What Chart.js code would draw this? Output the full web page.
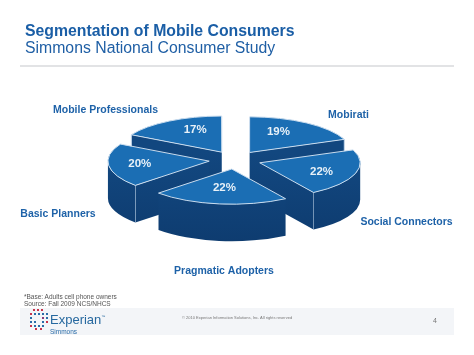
<!DOCTYPE html>
<html><head><meta charset="utf-8">
<script src="https://cdn.jsdelivr.net/npm/chart.js@4"></script>
<style>
html,body{margin:0;padding:0;background:#fff;width:474px;height:355px;overflow:hidden}
body{position:relative;font-family:"Liberation Sans",Arial,sans-serif}
canvas{position:absolute;left:0;top:0}
.t{position:absolute;white-space:nowrap;line-height:1}
#band{position:absolute;left:20px;top:308px;width:434px;height:27px;background:#f3f5f8}
#rule{position:absolute;left:20px;top:65px;width:434px;height:1.5px;background:#e2e3e5}
</style></head><body>
<div id="band"></div><div id="rule"></div>
<canvas id="c" width="474" height="355"></canvas>
<div class="t" style="left:25px;top:22.5px;font-size:15.8px;font-weight:bold;color:#1a5ea6">Segmentation of Mobile Consumers</div>
<div class="t" style="left:25px;top:39.5px;font-size:15.8px;color:#1f5fa5">Simmons National Consumer Study</div>
<div class="t" style="left:24px;top:294px;font-size:6.5px;color:#555">*Base: Adults cell phone owners</div>
<div class="t" style="left:24px;top:301px;font-size:6.5px;color:#555">Source: Fall 2009 NCS/NHCS</div>
<svg style="position:absolute;left:27px;top:308px" width="22" height="22" id="logo"></svg>
<div class="t" style="left:50px;top:313px;font-size:13px;color:#26689f">Experian<span style="font-size:4px;vertical-align:6px">™</span></div>
<div class="t" style="left:50px;top:328.5px;font-size:6.5px;color:#2a6ca8">Simmons</div>
<div class="t" style="left:182px;top:316px;font-size:4px;color:#777">© 2010 Experian Information Solutions, Inc. All rights reserved</div>
<div class="t" style="left:433px;top:317px;font-size:7px;color:#777">4</div>
<script>
const categories = ['Mobirati','Social Connectors','Pragmatic Adopters','Basic Planners','Mobile Professionals'];
const shares = [19,22,22,20,17];

// layout and styling
const SQUASH = 0.35, DEPTH = 37, OFFSET = 104;
const percentRadii = [62,66,50,70,60];
const percentNudges = [[-6,-3],[-1,2],[-1,1],[0,0],[4,-4]];
const nameAnchors = [[348.5,115],[406.5,222],[224,271],[58,214],[105.5,110]];
const TOP = '#1b6eb4', EDGE = '#c9dcee', SIDE_A = '#12477f', SIDE_B = '#0e3c70';

const logo = document.getElementById('logo');
const dots = [[6,1,'#c8324b'],[10,1,'#c8324b'],[14,1,'#c8324b'],[3,5,'#c8324b'],[7,5,'#2a6ca8'],[11,5,'#2a6ca8'],[15,5,'#2a6ca8'],[19,5,'#2a6ca8'],
 [3,9,'#2a6ca8'],[15,9,'#8a3a78'],[19,9,'#2a6ca8'],[3,13,'#2a6ca8'],[7,13,'#2a6ca8'],[15,13,'#2a6ca8'],[19,13,'#c8324b'],[3,17,'#c8324b'],[7,17,'#2a6ca8'],[11,17,'#2a6ca8'],[15,17,'#2a6ca8'],[8,20,'#c8324b'],[13,20,'#c8324b']];
logo.innerHTML = dots.map(d=>`<rect x="${d[0]}" y="${d[1]}" width="2" height="2" fill="${d[2]}"/>`).join('');

function geom(chart, arc){
  const p = arc.getProps(['x','y','startAngle','endAngle','outerRadius']);
  const mid = (p.startAngle+p.endAngle)/2, c = p.endAngle-p.startAngle;
  const off = OFFSET/4;
  const r = p.outerRadius + off*(1-Math.sin(Math.min(Math.PI,c)));
  const ax = p.x + Math.cos(mid)*off, ay = p.y + Math.sin(mid)*off*SQUASH;
  return {a1:p.startAngle,a2:p.endAngle,mid,r,ax,ay};
}
const pt = (g,a,dz=0)=>[g.ax+Math.cos(a)*g.r, g.ay+Math.sin(a)*g.r*SQUASH+dz];

const pie3d = {
  id:'pie3d',
  beforeDatasetsDraw(chart){
    const ctx = chart.ctx, arcs = chart.getDatasetMeta(0).data;
    const order = arcs.map(a=>geom(chart,a)).sort((u,v)=>u.ay-v.ay);
    order.forEach(g=>{
      const grad = ctx.createLinearGradient(0,g.ay,0,g.ay+g.r*SQUASH+DEPTH);
      grad.addColorStop(0,SIDE_A); grad.addColorStop(1,SIDE_B);
      ctx.fillStyle = grad; ctx.strokeStyle = EDGE; ctx.lineWidth = 1;
      const face = a=>{
        const e = pt(g,a);
        ctx.beginPath(); ctx.moveTo(g.ax,g.ay); ctx.lineTo(e[0],e[1]);
        ctx.lineTo(e[0],e[1]+DEPTH); ctx.lineTo(g.ax,g.ay+DEPTH); ctx.closePath(); ctx.fill();
        ctx.beginPath(); ctx.moveTo(e[0],e[1]); ctx.lineTo(e[0],e[1]+DEPTH); ctx.stroke();
      };
      if(-Math.cos(g.a1)>0) face(g.a1);
      if(Math.cos(g.a2)>0) face(g.a2);
      // front rim wall: clip the slice's angle span to the lower half of the ellipse
      for(let base of [-2*Math.PI,0,2*Math.PI]){
        const s = Math.max(g.a1,base), e = Math.min(g.a2,base+Math.PI);
        if(e<=s) continue;
        ctx.beginPath();
        ctx.ellipse(g.ax,g.ay,g.r,g.r*SQUASH,0,s,e);
        ctx.ellipse(g.ax,g.ay+DEPTH,g.r,g.r*SQUASH,0,e,s,true);
        ctx.closePath(); ctx.fill();
      }
    });
  },
  beforeDatasetDraw(chart,args){
    const ctx = chart.ctx, a = chart.getDatasetMeta(0).data[0];
    ctx.save(); ctx.translate(a.x,a.y); ctx.scale(1,SQUASH); ctx.translate(-a.x,-a.y);
  },
  afterDatasetDraw(chart){ chart.ctx.restore(); },
  afterDatasetsDraw(chart){
    const ctx = chart.ctx, arcs = chart.getDatasetMeta(0).data;
    arcs.forEach((arc,i)=>{
      const g = geom(chart,arc);
      ctx.strokeStyle = EDGE; ctx.lineWidth = 1; ctx.lineJoin='round';
      ctx.beginPath(); ctx.moveTo(g.ax,g.ay);
      ctx.ellipse(g.ax,g.ay,g.r,g.r*SQUASH,0,g.a1,g.a2);
      ctx.closePath(); ctx.stroke();
      ctx.font = 'bold 11.5px "Liberation Sans",Arial,sans-serif';
      ctx.textAlign='center'; ctx.textBaseline='middle'; ctx.fillStyle='#e8f1f8';
      ctx.fillText(shares[i]+'%', g.ax+Math.cos(g.mid)*percentRadii[i]+percentNudges[i][0], g.ay+Math.sin(g.mid)*percentRadii[i]*SQUASH+percentNudges[i][1]);
      ctx.font = 'bold 10.5px "Liberation Sans",Arial,sans-serif';
      ctx.fillStyle='#1e62a8';
      ctx.fillText(categories[i], nameAnchors[i][0], nameAnchors[i][1]);
    });
  }
};

new Chart(document.getElementById('c'),{
  type:'pie',
  data:{labels:categories,datasets:[{data:shares,backgroundColor:TOP,borderWidth:0,offset:OFFSET,clip:false}]},
  plugins:[pie3d],
  options:{
    responsive:false,animation:false,
    layout:{padding:{left:83,right:87,top:8,bottom:43}},
    plugins:{legend:{display:false},tooltip:{enabled:false},title:{display:false}}
  }
});
</script>
</body></html>
